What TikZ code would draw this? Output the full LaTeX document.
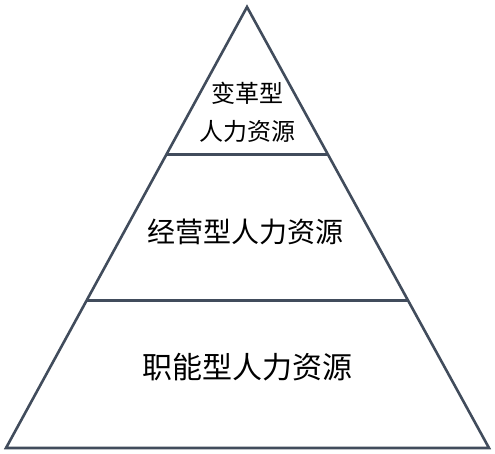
\documentclass[tikz,border=0pt]{standalone}
\usepackage{fontspec}
\usetikzlibrary{calc}
\newfontfamily\cjk{Noto Sans CJK SC}
\definecolor{edgegray}{HTML}{414C5C}
\tikzset{
  layer/.style={draw=edgegray, line width=2.6pt, line join=miter},
  label/.style={font=\cjk, text=black, align=center, inner sep=0pt}
}
\begin{document}
\begin{tikzpicture}[x=1pt, y=-1pt]
  \useasboundingbox (0,0) rectangle (495,454);
  \coordinate (apex) at (247,7);
  \coordinate (bl) at (6,448);
  \coordinate (br) at (489,448);
  \coordinate (t1) at ($(apex)!0.335!(bl)$);
  \coordinate (t2) at ($(apex)!0.335!(br)$);
  \coordinate (m1) at ($(apex)!0.666!(bl)$);
  \coordinate (m2) at ($(apex)!0.666!(br)$);

  \draw[layer] (apex) -- (br) -- (bl) -- cycle;
  \draw[layer] (t1) -- (t2);
  \draw[layer] (m1) -- (m2);

  \node[label, font=\cjk\fontsize{24}{38}\selectfont] (top) at (247,112) {变革型\\人力资源};
  \node[label, font=\cjk\fontsize{28}{34}\selectfont] (mid) at (245,232) {经营型人力资源};
  \node[label, font=\cjk\fontsize{30}{36}\selectfont] (bot) at (247,367) {职能型人力资源};
\end{tikzpicture}
\end{document}
